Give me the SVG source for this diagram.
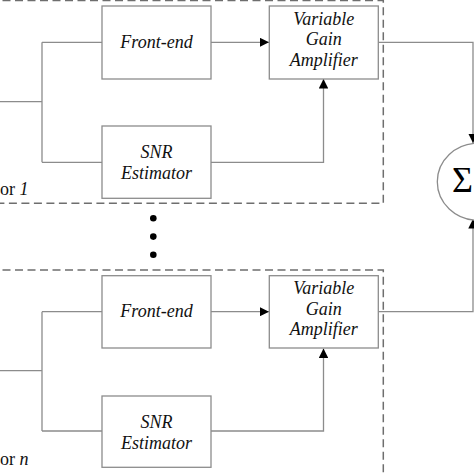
<svg xmlns="http://www.w3.org/2000/svg" width="474" height="474" viewBox="0 0 474 474">
<defs>
<style>
.box{fill:#fff;stroke:#8c8c8c;stroke-width:1.3}
.ln{fill:none;stroke:#8c8c8c;stroke-width:1.3}
.dash{fill:none;stroke:#6e6e6e;stroke-width:1.5;stroke-dasharray:8 4.5}
.t{font-family:"Liberation Serif","Times New Roman",serif;font-style:italic;font-size:18px;fill:#111;text-anchor:middle}
.lbl{font-family:"Liberation Serif","Times New Roman",serif;font-size:18px;fill:#111}
</style>
<marker id="ah" viewBox="0 0 10 10" refX="10" refY="5" markerWidth="9.5" markerHeight="9.5" markerUnits="userSpaceOnUse" orient="auto">
<path d="M0,0 L10,5 L0,10 Z" fill="#000"/>
</marker>
</defs>
<rect width="474" height="474" fill="#fff"/>
<g id="sensor1-frame">
<path class="dash" d="M-10,0.5 H383.3 V203.3 H-10"/>
<text class="lbl" x="0" y="195">or <tspan font-style="italic">1</tspan></text>
</g>
<g id="sensorn-frame">
<path class="dash" d="M-10,270 H383.3 V480"/>
<text class="lbl" x="0" y="465">or <tspan font-style="italic">n</tspan></text>
</g>
<g id="connectors">
<path class="ln" d="M0,101.7 H42 M42,42.3 V162.3 M42,42.3 H102 M42,162.3 H102"/>
<path class="ln" d="M211,42.3 H269" marker-end="url(#ah)"/>
<path class="ln" d="M211,162.3 H323.5 V79" marker-end="url(#ah)"/>
<path class="ln" d="M378.5,42.3 H473 V143" marker-end="url(#ah)"/>
<path class="ln" d="M0,370.7 H42 M42,311.7 V431 M42,311.7 H102 M42,431 H102"/>
<path class="ln" d="M211,311.7 H269" marker-end="url(#ah)"/>
<path class="ln" d="M211,431 H323.5 V348.5" marker-end="url(#ah)"/>
<path class="ln" d="M378.5,311.7 H473 V219" marker-end="url(#ah)"/>
</g>
<g id="frontend1">
<rect class="box" x="102" y="6" width="109" height="73"/>
<text class="t" x="156.5" y="47.5">Front-end</text>
</g>
<g id="vga1">
<rect class="box" x="269.3" y="6" width="109" height="73"/>
<text class="t" x="323.8" y="24.5">Variable</text>
<text class="t" x="323.8" y="45">Gain</text>
<text class="t" x="323.8" y="65.5">Amplifier</text>
</g>
<g id="snr1">
<rect class="box" x="102" y="126" width="109" height="72.3"/>
<text class="t" x="156.5" y="158">SNR</text>
<text class="t" x="156.5" y="179">Estimator</text>
</g>
<g id="frontendn">
<rect class="box" x="102" y="275.7" width="109" height="72.3"/>
<text class="t" x="156.5" y="317">Front-end</text>
</g>
<g id="vgan">
<rect class="box" x="269.3" y="275.7" width="109" height="72.3"/>
<text class="t" x="323.8" y="294">Variable</text>
<text class="t" x="323.8" y="314.5">Gain</text>
<text class="t" x="323.8" y="335">Amplifier</text>
</g>
<g id="snrn">
<rect class="box" x="102" y="396" width="109" height="71.3"/>
<text class="t" x="156.5" y="428">SNR</text>
<text class="t" x="156.5" y="449">Estimator</text>
</g>
<g id="ellipsis">
<circle cx="153.3" cy="218.3" r="3.3" fill="#000"/>
<circle cx="153.3" cy="236.6" r="3.3" fill="#000"/>
<circle cx="153.3" cy="254.8" r="3.3" fill="#000"/>
</g>
<g id="sum">
<ellipse cx="478" cy="181.7" rx="40.7" ry="38.5" fill="#fff" stroke="#8c8c8c" stroke-width="1.3"/>
<text x="452" y="192" font-family="'Liberation Serif','Times New Roman',serif" font-size="36" fill="#000">Σ</text>
</g>
</svg>
